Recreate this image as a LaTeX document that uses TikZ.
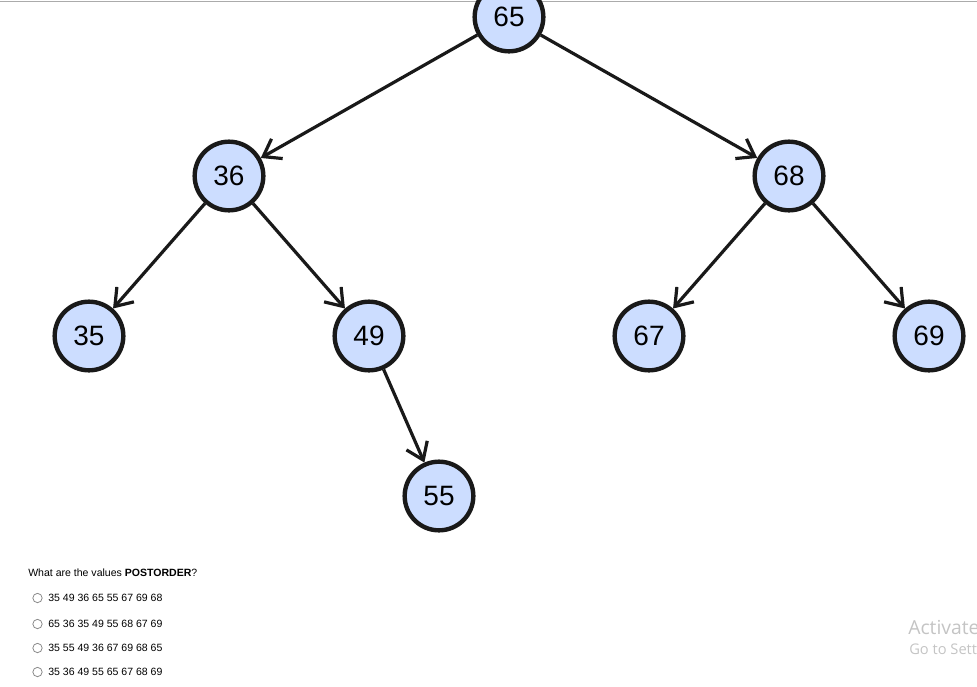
\documentclass[tikz,border=0pt]{standalone}
\usepackage{fontspec}
\setmainfont{Liberation Sans}
\newfontfamily\winfont{Open Sans}
\usetikzlibrary{shapes, arrows.meta, positioning}
\definecolor{keyfill}{HTML}{CCDDFF}
\definecolor{radiogray}{HTML}{8A8A8A}
\definecolor{markgray}{HTML}{C4C4C4}
\tikzstyle{key}=[draw=black!90,fill=keyfill,circle,line width=3.3pt,minimum size=51.5pt,inner sep=0pt,font=\fontsize{21}{24}\selectfont]
\tikzstyle{radio}=[draw=radiogray,circle,line width=0.6pt,minimum size=7pt,inner sep=0pt]
\tikzstyle{answer}=[anchor=west,inner sep=0pt,font=\fontsize{7.9}{9}\selectfont]

\begin{document}
\begin{tikzpicture}[x=0.75pt,y=-0.75pt,>={Straight Barb[length=12pt,width=17pt]}]
  \useasboundingbox (0,0) rectangle (977,686);
  \draw[black!33,line width=0.8pt] (0,1.5) -- (977,1.5);
  % tree
  \node[key] (k65) at (509,17) {65};
  \node[key] (k36) at (229,176) {36};
  \node[key] (k68) at (789,176) {68};
  \node[key] (k35) at (89,336) {35};
  \node[key] (k49) at (369,336) {49};
  \node[key] (k67) at (649,336) {67};
  \node[key] (k69) at (929,336) {69};
  \node[key] (k55) at (439,496) {55};
  \begin{scope}[line width=2.4pt,black!90]
    \draw[->] (k65) -- (k36);
    \draw[->] (k65) -- (k68);
    \draw[->] (k36) -- (k35);
    \draw[->] (k36) -- (k49);
    \draw[->] (k68) -- (k67);
    \draw[->] (k68) -- (k69);
    \draw[->] (k49) -- (k55);
  \end{scope}
  % question
  \node[answer] (question) at (28,573) {What are the values \textbf{POSTORDER}?};
  \node[radio] (r1) at (37.5,598) {};
  \node[radio] (r2) at (37.5,624) {};
  \node[radio] (r3) at (37.5,648) {};
  \node[radio] (r4) at (37.5,672) {};
  \node[answer] (a1) at (48,598) {35 49 36 65 55 67 69 68};
  \node[answer] (a2) at (48,624) {65 36 35 49 55 68 67 69};
  \node[answer] (a3) at (48,648) {35 55 49 36 67 69 68 65};
  \node[answer] (a4) at (48,672) {35 36 49 55 65 67 68 69};
  % watermark
  \node[anchor=west,inner sep=0pt,text=markgray,font=\winfont\fontsize{14.5}{16}\selectfont] (act) at (908,627) {Activate};
  \node[anchor=west,inner sep=0pt,text=markgray,font=\winfont\fontsize{11}{12}\selectfont] (sett) at (909,649) {Go to Sett};
\end{tikzpicture}
\end{document}
